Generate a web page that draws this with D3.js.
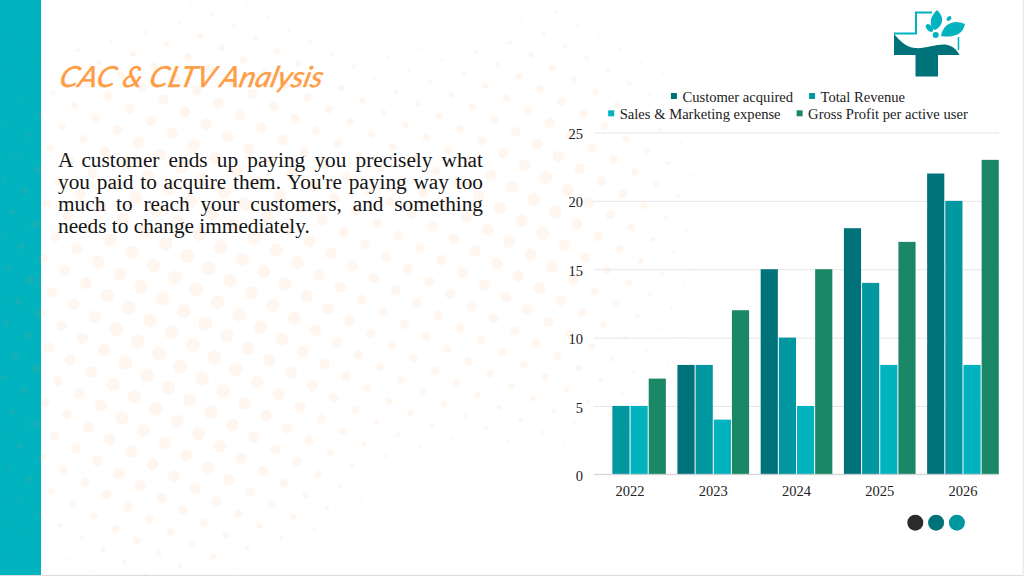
<!DOCTYPE html>
<html>
<head>
<meta charset="utf-8">
<script src="https://cdn.jsdelivr.net/npm/d3@7"></script>
<style>
  html, body { margin: 0; padding: 0; background: #fff; overflow: hidden; }
  svg { position: absolute; left: 0; top: 0; }
  #copy {
    position: absolute; left: 58px; top: 149px; width: 425px;
    font: 21.3px/22px "Liberation Serif", serif; color: #141414;
    text-align: justify;
  }
</style>
</head>
<body>
<script>
const years = ["2022", "2023", "2024", "2025", "2026"];
const seriesNames = ["Customer acquired", "Total Revenue", "Sales & Marketing expense", "Gross Profit per active user"];
const customerAcquired = [0, 8, 15, 18, 22];
const totalRevenue = [5, 8, 10, 14, 20];
const salesMarketing = [5, 4, 5, 8, 8];
const grossProfit = [7, 12, 15, 17, 23];
const yTicks = [0, 5, 10, 15, 20, 25];
const colors = ["#00727a", "#0097a0", "#00b3bf", "#1a8767"];
const legendRows = [[0, 1], [2, 3]];
const titleText = "CAC & CLTV Analysis";
const bodyText = "A customer ends up paying you precisely what you paid to acquire them. You're paying way too much to reach your customers, and something needs to change immediately.";
const pagerColors = ["#2b2b2b", "#00727a", "#0097a0"];

// halftone background: dot radius table
const haloX = [-45, 40, 125, 210, 295, 380, 465, 550, 635, 720];
const haloY = [0, 96, 192, 288, 384, 480, 576];
const haloR = [
  [0, 0, 0, 1.5, 0.5, 0, 0, 1, 0, 0],
  [0, 2, 5, 5.5, 4.5, 2.5, 3, 4.5, 2.5, 0],
  [0, 4, 6.5, 7, 6, 4.5, 5.5, 7, 4, 0],
  [0, 5, 7, 7, 6.5, 5, 5.5, 6, 3, 0],
  [0, 4.5, 7, 7, 6, 4, 3.5, 3.5, 1.5, 0],
  [0, 3.5, 6, 6, 4.5, 1, 0.2, 0.2, 0, 0],
  [0, 0, 2, 2, 0, 0, 0, 0, 0, 0]
];

const width = 1024, height = 576;
const svg = d3.select("body").append("svg").attr("width", width).attr("height", height);

const sidebarColor = "#00b3bf";
svg.append("rect").attr("width", 41).attr("height", height).attr("fill", sidebarColor);

const dotRadius = (x, y) => {
  const i = d3.bisectRight(haloX, x) - 1, j = d3.bisectRight(haloY, y) - 1;
  if (i < 0 || j < 0 || i >= haloX.length - 1 || j >= haloY.length - 1) return 0;
  const tx = (x - haloX[i]) / (haloX[i + 1] - haloX[i]);
  const ty = (y - haloY[j]) / (haloY[j + 1] - haloY[j]);
  const top = haloR[j][i] + (haloR[j][i + 1] - haloR[j][i]) * tx;
  const bottom = haloR[j + 1][i] + (haloR[j + 1][i + 1] - haloR[j + 1][i]) * tx;
  return top + (bottom - top) * ty;
};

const dots = [];
for (let a = -40; a < 60; a++) {
  for (let b = -40; b < 40; b++) {
    const x = 132 + a * 21.4 - b * 12.35;
    const y = 252.7 + a * 12.35 + b * 21.4;
    const r = dotRadius(x, y);
    if (r > 0.25) dots.push({ x, y, r });
  }
}
svg.append("g").selectAll("circle").data(dots).join("circle")
  .attr("cx", d => d.x).attr("cy", d => d.y).attr("r", d => d.r)
  .attr("fill", "#ff8a3c").attr("fill-opacity", 0.08);

// frame edges
svg.append("rect").attr("x", 0).attr("y", 575).attr("width", width).attr("height", 1).attr("fill", "#dcdce0");
svg.append("rect").attr("x", 1022.6).attr("y", 0).attr("width", 1.4).attr("height", height).attr("fill", "#ececee");

// title
svg.append("text").attr("transform", "translate(58,87) skewX(-14)")
  .attr("textLength", 263).attr("lengthAdjust", "spacingAndGlyphs")
  .attr("font-family", "Lato").attr("font-style", "italic").attr("font-size", 29)
  .attr("fill", "#ff9d45").attr("stroke", "#ff9d45").attr("stroke-width", 0.4).text(titleText);

d3.select("body").append("div").attr("id", "copy").text(bodyText);

// chart
const rows = years.map((year, i) => ({
  year, values: [customerAcquired[i], totalRevenue[i], salesMarketing[i], grossProfit[i]]
}));
const x0 = d3.scaleBand().domain(years).range([593.7, 999.3]).paddingInner(0.127).paddingOuter(0);
const x1 = d3.scaleBand().domain(d3.range(seriesNames.length)).range([0, x0.bandwidth()]);
const y = d3.scaleLinear().domain([0, 25]).range([474.3, 132.5]);

const yAxis = svg.append("g").attr("transform", "translate(594,0)")
  .call(d3.axisLeft(y).tickValues(yTicks).tickSize(-405).tickPadding(11));
yAxis.select(".domain").remove();
yAxis.selectAll("line").attr("stroke", "#e6e6e8");
yAxis.selectAll("text").attr("font-family", "Liberation Serif").attr("font-size", 14.5).attr("fill", "#222").attr("dy", "0.42em");

const groups = svg.append("g").selectAll("g").data(rows).join("g")
  .attr("transform", d => `translate(${x0(d.year)},0)`);
groups.selectAll("rect").data(d => d.values).join("rect")
  .attr("x", (d, i) => x1(i) + 0.5)
  .attr("width", x1.bandwidth() - 1)
  .attr("y", d => y(d))
  .attr("height", d => y(0) - y(d))
  .attr("fill", (d, i) => colors[i]);

const xAxis = svg.append("g").attr("transform", "translate(0,474.3)")
  .call(d3.axisBottom(x0).tickSize(0).tickPadding(11));
xAxis.select(".domain").attr("stroke", "#d0d0d4").attr("d", "M594,0H999");
xAxis.selectAll("text").attr("font-family", "Liberation Serif").attr("font-size", 14.5).attr("fill", "#222");

// legend, two centred rows
legendRows.forEach((row, r) => {
  const g = svg.append("g");
  let cursor = 0;
  row.forEach(s => {
    g.append("rect").attr("x", cursor).attr("y", 93 + r * 17.3).attr("width", 6).attr("height", 6).attr("fill", colors[s]);
    const label = g.append("text").attr("x", cursor + 11.5).attr("y", 102 + r * 17.3)
      .attr("font-family", "Liberation Serif").attr("font-size", 14.6).attr("fill", "#222").text(seriesNames[s]);
    cursor += 11.5 + label.node().getComputedTextLength() + 16;
  });
  g.attr("transform", `translate(${788 - (cursor - 16) / 2},0)`);
});

// pager dots
svg.append("g").selectAll("circle").data(pagerColors).join("circle")
  .attr("cx", (d, i) => 915.3 + i * 20.8).attr("cy", 522.7).attr("r", 8).attr("fill", d => d);

// logo
const logo = svg.append("g");
logo.append("path").attr("d", "M894,33.5H916V12.5H932").attr("fill", "none").attr("stroke", "#00b3bf").attr("stroke-width", 2);
logo.append("path").attr("d", "M958.5,37V50").attr("fill", "none").attr("stroke", "#00b3bf").attr("stroke-width", 1.5);
logo.append("path")
  .attr("d", "M894,34C900,41 906,47 915,48C925,49 935,44 945,44.5C952,45 957,50 959.5,55H938V76.5H915.5V55H894Z")
  .attr("fill", "#00727a");
logo.append("path").attr("d", "M937,10C929,17 929,27 935,30C943,26 945,17 937,10Z").attr("fill", "#00b3bf");
logo.append("path").attr("d", "M965,24C955,19 943,23 941,36C952,38 963,35 965,24Z").attr("fill", "#00b3bf");
logo.append("ellipse").attr("cx", 929.5).attr("cy", 28).attr("rx", 4.5).attr("ry", 2.7).attr("transform", "rotate(45 929.5 28)").attr("fill", "#00b3bf");
logo.append("ellipse").attr("cx", 949).attr("cy", 18.5).attr("rx", 2.8).attr("ry", 1.9).attr("transform", "rotate(-40 949 18.5)").attr("fill", "#00b3bf");
logo.append("circle").attr("cx", 935.7).attr("cy", 35).attr("r", 3).attr("fill", "#00b3bf");
</script>
</body>
</html>
